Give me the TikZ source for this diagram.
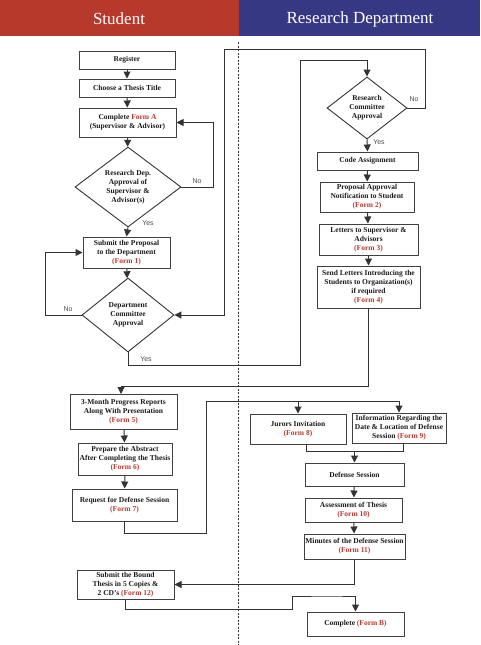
\documentclass[tikz,border=0pt]{standalone}
\usepackage{fontspec}
\setmainfont{Liberation Serif}
\newfontfamily\labelfont{Liberation Sans}
\usetikzlibrary{arrows.meta, shapes.geometric}

\definecolor{studred}{RGB}{182,57,43}
\definecolor{deptblue}{RGB}{54,56,131}
\definecolor{formred}{RGB}{190,55,45}
\newcommand{\formref}[1]{\textcolor{formred}{#1}}

\tikzset{
  box/.style={draw=black!75, line width=1pt, rectangle, inner sep=0pt, align=center,
    text=black!90, font=\bfseries\fontsize{7.5}{9}\selectfont},
  decision/.style={draw=black!80, line width=0.9pt, diamond, inner sep=0pt, align=center,
    text=black!90, font=\bfseries\fontsize{7.5}{9}\selectfont},
  link/.style={draw=black!80, line width=1pt},
  arr/.style={link, -{Triangle[length=7pt,width=7pt]}},
  answer/.style={font=\labelfont\fontsize{7}{8}\selectfont, text=black!70, inner sep=1pt},
  banner/.style={text=white, font=\fontsize{17}{20}\selectfont}
}

\begin{document}
\begin{tikzpicture}[x=1pt,y=-1pt]
\useasboundingbox (0,0) rectangle (480,645);
%\draw[step=20,gray,very thin] (0,0) grid (480,645); %background grid

%headers
\fill[studred] (0,0) rectangle (239,36);
\fill[deptblue] (239,0) rectangle (480,36);
\node[banner] (student) at (119,19) {Student};
\node[banner] (dept) at (360,19) {Research Department};
\draw[black!80, line width=0.8pt, dash pattern=on 2pt off 1.5pt] (238,42) -- (238,645);

%student side
\node[box, minimum width=96pt, minimum height=18pt] (reg) at (127,60) {Register};
\node[box, minimum width=96pt, minimum height=18pt] (title) at (127,88) {Choose a Thesis Title};
\node[box, minimum width=97pt, minimum height=29pt] (forma) at (127.5,122.5) {Complete \formref{Form A}\\(Supervisor \& Advisor)};
\node[decision, minimum width=106pt, minimum height=80pt] (dia1) at (128,187) {Research Dep.\\Approval of\\Supervisor \&\\Advisor(s)};
\node[box, minimum width=87pt, minimum height=31pt] (prop) at (126.5,252.5) {Submit the Proposal\\to the Department\\\formref{(Form 1)}};
\node[decision, minimum width=92pt, minimum height=74pt] (dia2) at (128,315) {Department\\Committee\\Approval};

%department side
\node[decision, minimum width=80pt, minimum height=62pt] (dia3) at (367,108) {Research\\Committee\\Approval};
\node[box, minimum width=101pt, minimum height=18pt] (code) at (367.5,161) {Code Assignment};
\node[box, minimum width=94pt, minimum height=30pt] (form2) at (367,197) {Proposal Approval\\Notification to Student\\\formref{(Form 2)}};
\node[box, minimum width=99pt, minimum height=31pt] (form3) at (368.5,239.5) {Letters to Supervisor \&\\Advisors\\\formref{(Form 3)}};
\node[box, minimum width=103pt, minimum height=42pt] (form4) at (368.5,287) {Send Letters Introducing the\\Students to Organization(s)\\if required\\\formref{(Form 4)}};

%progress
\node[box, minimum width=107pt, minimum height=35pt] (form5) at (123.5,411.5) {3-Month Progress Reports\\Along With Presentation\\\formref{(Form 5)}};
\node[box, minimum width=94pt, minimum height=32pt] (form6) at (125,459) {Prepare the Abstract\\After Completing the Thesis\\\formref{(Form 6)}};
\node[box, minimum width=105pt, minimum height=32pt] (form7) at (124.5,505) {Request for Defense Session\\\formref{(Form 7)}};

%defense
\node[box, minimum width=96pt, minimum height=30pt] (form8) at (298,429) {Jurors Invitation\\\formref{(Form 8)}};
\node[box, minimum width=94pt, minimum height=30pt] (form9) at (399,428) {Information Regarding the\\Date \& Location of Defense\\Session \formref{(Form 9)}};
\node[box, minimum width=99pt, minimum height=23pt] (defense) at (354.5,474.5) {Defense Session};
\node[box, minimum width=97pt, minimum height=24pt] (form10) at (353.5,510) {Assessment of Thesis\\\formref{(Form 10)}};
\node[box, minimum width=101pt, minimum height=25pt] (form11) at (354.5,546.5) {Minutes of the Defense Session\\\formref{(Form 11)}};
\node[box, minimum width=97pt, minimum height=29pt] (form12) at (125.5,584.5) {Submit the Bound\\Thesis in 5 Copies \&\\2 CD's \formref{(Form 12)}};
\node[box, minimum width=97pt, minimum height=24pt] (formb) at (355.5,624) {Complete \formref{(Form B)}};

%answers
\node[answer] (no1) at (197,181) {No};
\node[answer] (yes1) at (148,223) {Yes};
\node[answer] (no2) at (68,309) {No};
\node[answer] (yes2) at (146,359) {Yes};
\node[answer] (no3) at (414,99) {No};
\node[answer] (yes3) at (379,142) {Yes};

%-------------------------------------------------
\draw[arr] (reg) -- (title);
\draw[arr] (title) -- (forma);
\draw[arr] (forma) -- (dia1);
\draw[arr] (dia1.east) -- (213,187) |- (forma.east);
\draw[arr] (dia1.south) -- (prop.north);
\draw[arr] (prop) -- (dia2);
\draw[arr] (dia2.west) -- (45,315) |- (prop.west);
\draw[arr] (dia2.south) |- (300,365) -- (300,60) -| (dia3.north);
\draw[arr] (dia3.east) -| (425,49) -| (224,315) -- (dia2.east);
\draw[arr] (dia3.south) -- (code.north);
\draw[arr] (code) -- (form2);
\draw[arr] (form2) -- (form3);
\draw[arr] (form3) -- (form4);
\draw[arr] (form4.south) |- (121,386) -- (121,394);
%-------------------------------------------------
\draw[arr] (form5) -- (form6);
\draw[arr] (form6) -- (form7);
\draw[arr] (form7.south) |- (206,533) -- (206,401) -| (form9.north);
\draw[arr] (form8.north |- 0,401) -- (form8.north);
\draw[link] ([xshift=8pt]form8.south) |- (403,451) -- (403,443);
\draw[arr] (defense.north |- 0,451) -- (defense.north);
\draw[arr] (defense) -- (form10);
\draw[arr] (form10) -- (form11);
\draw[arr] (form11.south) |- (form12.east);
\draw[arr] (form12.south) |- (292,609) |- (330,596) -| (formb.north);
\end{tikzpicture}
\end{document}
